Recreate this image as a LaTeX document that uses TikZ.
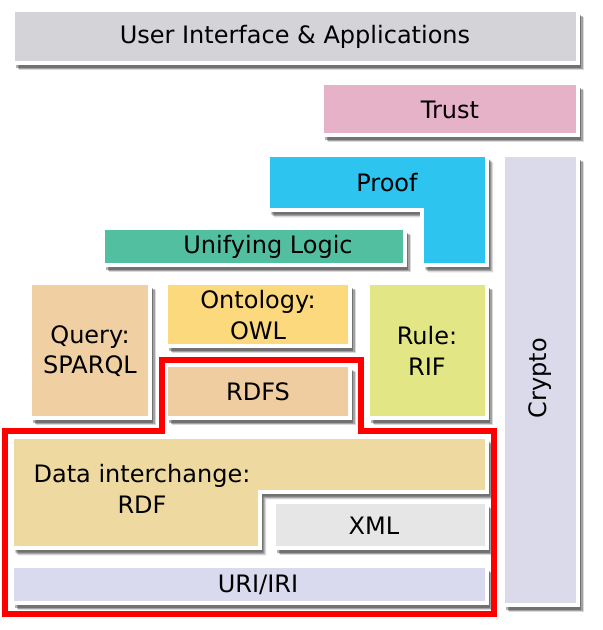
\documentclass[tikz,border=0pt]{standalone}
\usepackage{fontspec}
\setmainfont{DejaVu Sans}
\usetikzlibrary{shadows}
\definecolor{cUI}{HTML}{D3D3D8}
\definecolor{cTrust}{HTML}{E6B2C8}
\definecolor{cProof}{HTML}{2EC4F0}
\definecolor{cCrypto}{HTML}{DADAEB}
\definecolor{cLogic}{HTML}{52C0A0}
\definecolor{cQuery}{HTML}{F0D0A2}
\definecolor{cOnt}{HTML}{FCD97C}
\definecolor{cRule}{HTML}{E2E684}
\definecolor{cRDFS}{HTML}{F0CDA0}
\definecolor{cData}{HTML}{EEDAA0}
\definecolor{cXML}{HTML}{E6E6E6}
\definecolor{cURI}{HTML}{DADAEE}
\begin{document}
\begin{tikzpicture}[x=0.75pt,y=-0.75pt,
  blk/.style={draw=white,line width=2.5pt,
    general shadow={shadow xshift=4.5pt,shadow yshift=-5.5pt,fill=black,opacity=0.15},
    general shadow={shadow xshift=3.5pt,shadow yshift=-4.5pt,fill=black,opacity=0.25},
    general shadow={shadow xshift=2.5pt,shadow yshift=-3.5pt,fill=black,opacity=0.3}},
  lbl/.style={font=\fontsize{18}{21}\selectfont,align=center,inner sep=0pt}]
\useasboundingbox (0,0) rectangle (602,630);
\fill[white] (0,0) rectangle (602,630);
% blocks
\path[blk,fill=cUI] (13,10) rectangle (578,63);
\path[blk,fill=cTrust] (322,83) rectangle (578,135);
\path[blk,fill=cCrypto] (503,155) rectangle (578,605);
\path[blk,fill=cProof] (268,155) -- (487,155) -- (487,265) -- (422,265) -- (422,210) -- (268,210) -- cycle;
\path[blk,fill=cLogic] (103,228) rectangle (405,265);
\path[blk,fill=cQuery] (30,283) rectangle (150,418);
\path[blk,fill=cOnt] (166,283) rectangle (350,346);
\path[blk,fill=cRule] (368,283) rectangle (487,418);
\path[blk,fill=cRDFS] (166,365) rectangle (350,418);
\path[blk,fill=cData] (12,437) -- (487,437) -- (487,492) -- (260,492) -- (260,548) -- (12,548) -- cycle;
\path[blk,fill=cXML] (274,502) rectangle (487,548);
\path[blk,fill=cURI] (12,566) rectangle (487,603);
% red outline
\draw[red,line width=3.8pt] (162,360) -- (361,360) -- (361,431) -- (494,431) -- (494,614) -- (5,614) -- (5,431) -- (162,431) -- cycle;
% labels
\node[lbl] (ui) at (295,37) {User Interface \& Applications};
\node[lbl] (trust) at (450,110) {Trust};
\node[lbl] (proof) at (387,183) {Proof};
\node[lbl,rotate=90] (crypto) at (540,378) {Crypto};
\node[lbl] (logic) at (268,247) {Unifying Logic};
\node[lbl] (query) at (90,351) {Query:\\[2pt]SPARQL};
\node[lbl] (ont) at (258,315) {Ontology:\\[2pt]OWL};
\node[lbl] (rule) at (427,351) {Rule:\\[2pt]RIF};
\node[lbl] (rdfs) at (258,392) {RDFS};
\node[lbl] (data) at (142,489) {Data interchange:\\[2pt]RDF};
\node[lbl] (xml) at (374,526) {XML};
\node[lbl] (uri) at (258,585) {URI/IRI};
\end{tikzpicture}
\end{document}
